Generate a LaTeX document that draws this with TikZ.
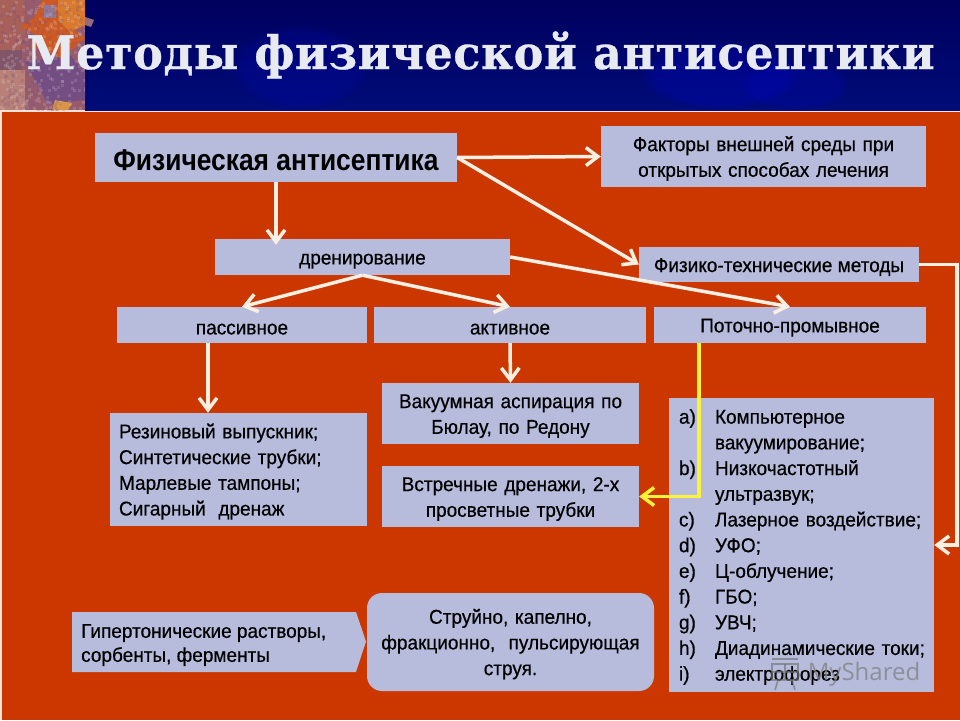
\documentclass[tikz,border=0pt]{standalone}
\usepackage{fontspec}
\usepackage{array}
\usetikzlibrary{arrows.meta,calc,fadings}
\setmainfont{Liberation Sans}[FakeStretch=0.95,FakeBold=0.5]
\newfontfamily\titlefont{DejaVu Serif}[BoldFont={DejaVu Serif Bold},BoldFeatures={FakeBold=0.6},LetterSpace=1.5,FakeStretch=0.96]
\newfontfamily\headfont{Liberation Sans Bold}[FakeStretch=0.88]
\newfontfamily\wmfont{Open Sans}
\definecolor{redbg}{HTML}{CC3700}
\definecolor{boxc}{HTML}{B7BCDC}
\definecolor{arrc}{HTML}{FBEEE3}
\definecolor{yel}{HTML}{FDF23A}
\definecolor{navyA}{HTML}{00005E}
\definecolor{navyB}{HTML}{000C78}
\definecolor{titlec}{HTML}{E8EAF2}
\definecolor{pa}{HTML}{965C6E}
\definecolor{pb}{HTML}{A8605A}
\definecolor{pc}{HTML}{B98078}
\definecolor{pd}{HTML}{744E82}
\definecolor{pe}{HTML}{CD5A23}
\definecolor{pf}{HTML}{D8792D}
\definecolor{pg}{HTML}{927896}
\definecolor{ph}{HTML}{D79646}
\definecolor{pi}{HTML}{825569}
\definecolor{pj}{HTML}{96697D}
\tikzset{
  boxn/.style={fill=boxc,draw=none,inner sep=0pt,align=center,text=black,font=\fontsize{20}{25.7}\selectfont,execute at begin node={\rule{0pt}{19pt}}},
  arr/.style={draw=arrc,line width=3.5pt,-{Straight Barb[length=12pt,width=18pt,line width=3.5pt]}},
  yarr/.style={arr,draw=yel},
}
\begin{document}
\begin{tikzpicture}[x=1pt,y=-1pt]
\useasboundingbox (0,0) rectangle (960,720);
% backgrounds
\fill[white!85!redbg] (0,0) rectangle (960,720);
\fill[redbg] (2,112) rectangle (960,720);
\shade[top color=navyA,bottom color=navyB] (85,0) rectangle (960,110);
\fill[blue!60!navyB,opacity=.2,path fading=circle with fuzzy edge 20 percent] (230,25) rectangle (370,110);
\fill[blue!70!navyB,opacity=.25,path fading=circle with fuzzy edge 20 percent] (640,40) rectangle (800,110);
\fill[blue!70!navyB,opacity=.2,path fading=circle with fuzzy edge 20 percent] (740,60) rectangle (850,110);
% autumn patchwork, top left
\begin{scope}
\clip (0,0) rectangle (85,110);
\fill[pa] (0,0) rectangle (85,110);
\fill[pb] (0,0) rectangle (25,50);
\fill[pc] (0,70) rectangle (25,110);
\fill[pd] (25,62) -- (70,55) -- (85,72) -- (85,100) -- (48,104) -- cycle;
\fill[pe] (42,0) -- (62,0) -- (64,14) -- (78,18) -- (74,30) -- (85,38) -- (74,48) -- (60,58) -- (44,50) -- (30,48) -- (35,34) -- (20,26) -- (34,18) -- cycle;
\fill[pf] (58,0) -- (85,0) -- (85,25) -- (70,32) -- (58,20) -- cycle;
\fill[pg] (44,5) rectangle (56,18);
\fill[ph] (55,100) -- (72,103) -- (68,110) -- (52,110) -- cycle;
\fill[pi] (0,50) rectangle (22,70);
\pgfmathsetseed{7}
\foreach \i in {1,...,500}{
  \pgfmathsetmacro{\px}{85*rnd}
  \pgfmathsetmacro{\py}{110*rnd}
  \pgfmathsetmacro{\pk}{rnd}
  \ifdim\pk pt<0.5pt
    \fill[white,opacity=.14] (\px,\py) rectangle ++(3,3);
  \else
    \fill[pd,opacity=.2] (\px,\py) rectangle ++(3,3);
  \fi
}
\end{scope}
\fill[pj] (85,17) -- (94,20) -- (91,27) -- (85,25) -- cycle;
% title
\node[anchor=center,inner sep=0pt,text=titlec,font={\titlefont\bfseries\fontsize{46.2}{50}\selectfont}] (title) at (480.5,55) {Методы физической антисептики};
% boxes
\node[boxn,minimum width=362pt,minimum height=49pt,font=\headfont\fontsize{30}{34}\selectfont,execute at begin node={\rule{0pt}{26pt}}] (fiz) at (276,157.5) {Физическая антисептика};
\node[boxn,text width=320pt,minimum width=325pt,minimum height=61pt] (fak) at (763.5,156.5) {Факторы внешней среды при\\открытых способах лечения};
\node[boxn,minimum width=295pt,minimum height=36pt] (dren) at (362.5,257) {дренирование};
\node[boxn,minimum width=280pt,minimum height=35pt] (fiko) at (779,264.5) {Физико-технические методы};
\node[boxn,minimum width=250pt,minimum height=36pt] (pas) at (242,325) {пассивное};
\node[boxn,minimum width=272pt,minimum height=36pt] (akt) at (510,325) {активное};
\node[boxn,minimum width=272pt,minimum height=36pt] (pot) at (790,325) {Поточно-промывное};
\node[boxn,text width=250pt,minimum width=257pt,minimum height=61pt] (vak) at (510.5,413.5) {Вакуумная аспирация по\\Бюлау, по Редону};
\node[boxn,text width=250pt,minimum width=257pt,minimum height=61pt] (vst) at (510.5,496.5) {Встречные дренажи, 2-х\\просветные трубки};
\node[boxn,minimum width=257pt,minimum height=113pt,align=left,text width=239pt] (rez) at (238.5,469.5) {Резиновый выпускник;\\Синтетические трубки;\\Марлевые тампоны;\\Сигарный\hspace{6pt} дренаж};
\node[boxn,minimum width=265pt,minimum height=294pt,text width=245pt,align=left,execute at begin node={}] (lst) at (801.5,545) {\vbox{\kern4pt\hbox{\begin{tabular}{@{}>{\raggedright\arraybackslash}p{36pt}@{}l@{}}
a) & Компьютерное\\
   & вакуумирование;\\
b) & Низкочастотный\\
   & ультразвук;\\
c) & Лазерное воздействие;\\
d) & УФО;\\
e) & Ц-облучение;\\
f) & ГБО;\\
g) & УВЧ;\\
h) & Диадинамические токи;\\
i) & электрофорез
\end{tabular}}}};
\fill[boxc] (72,612) -- (356,612) -- (366,641.5) -- (356,672) -- (72,672) -- cycle;
\node[inner sep=0pt,align=left,anchor=west,text=black,font=\fontsize{20}{24}\selectfont] (gip) at (81,645) {Гипертонические растворы,\\сорбенты, ферменты};
\node[boxn,text width=280pt,rounded corners=15pt,minimum width=287pt,minimum height=98pt] (str) at (510.5,642) {Струйно, капелно,\\фракционно,\ \ пульсирующая\\струя.};
% connectors
\draw[arr,shorten >=-6pt] (fiz.south) -- (dren.north -| fiz.south);
\draw[arr] (fiz.east) -- (fak.west);
\draw[arr] (fiz.east) -- (fiko.west);
\draw[arr] (dren.east) -- (pot.north);
\draw[arr] (dren.south) -- (pas.north);
\draw[arr] (dren.south) -- (akt.north);
\draw[arr] (akt.south) -- (vak.north);
\draw[arr] ([xshift=-34pt]pas.south) -- ([xshift=-30.5pt]rez.north);
\draw[yarr] ([xshift=-91pt]pot.south) |- (vst.east);
\coordinate (turn) at (957,264.5);
\draw[arr] (fiko.east) -- (turn) |- (lst.east);
% watermark
\begin{scope}[draw=black!55,opacity=.65,line width=1.6pt]
\draw (772,664) rectangle (798,680);
\draw (772,659) -- (798,659);
\draw (778,680) -- (775,690) (792,680) -- (795,690);
\draw (772,672) -- (798,672) (785,664) -- (785,680);
\end{scope}
\node[inner sep=0pt,text=black!50,opacity=.75,font={\wmfont\fontsize{24}{28}\selectfont}] (wm) at (864,674) {MyShared};
\end{tikzpicture}
\end{document}
